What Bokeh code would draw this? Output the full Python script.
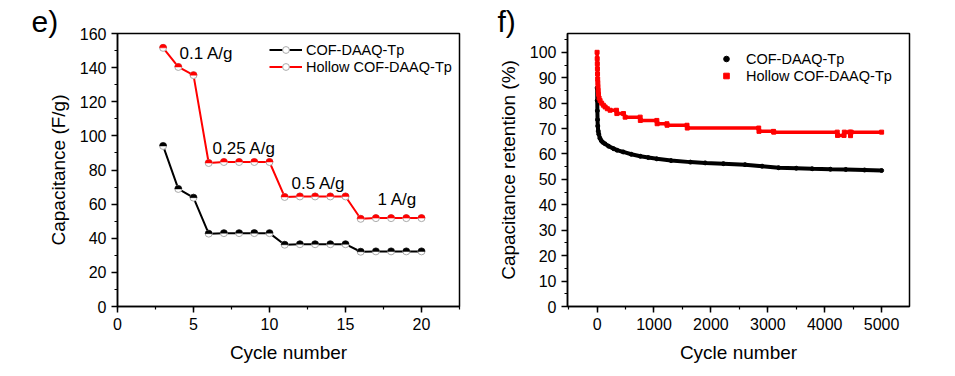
import math
from bokeh.plotting import figure
from bokeh.layouts import row
from bokeh.models import Label, Legend, LegendItem, SingleIntervalTicker, Range1d, Title
from bokeh.embed import file_html
from bokeh.resources import INLINE

# ---------------- data: panel e ----------------
cycles_e = [3, 4, 5, 6, 7, 8, 9, 10, 11, 12, 13, 14, 15, 16, 17, 18, 19, 20]
cap_cof = [94.1, 68.9, 63.8, 42.7, 43.0, 43.0, 43.0, 43.0, 36.2, 36.5, 36.5, 36.5, 36.5, 32.1, 32.3, 32.3, 32.3, 32.3]
cap_hollow = [151.6, 140.4, 135.6, 84.1, 84.7, 84.7, 84.7, 84.7, 64.2, 64.5, 64.5, 64.5, 64.5, 51.4, 51.8, 51.8, 51.8, 51.8]
rate_labels = ["0.1 A/g", "0.25 A/g", "0.5 A/g", "1 A/g"]

# ---------------- data: panel f ----------------
cyc_cof = [1, 3, 5, 8, 12, 20, 30, 50, 75, 100, 140, 200, 290, 350, 460, 600, 760, 900, 1050,
           1300, 1640, 1900, 2220, 2600, 2900, 3190, 3500, 3780, 4100, 4370, 4700, 5000]
ret_cof = [86, 81, 77, 73.5, 71, 69, 67.8, 66.2, 65.2, 64.6, 64.0, 63.1, 62.1, 61.5, 60.8, 59.9, 59.1, 58.6, 58.1,
           57.4, 56.8, 56.5, 56.2, 55.8, 55.2, 54.6, 54.4, 54.2, 54.0, 53.9, 53.7, 53.5]
cyc_hollow = [0, 2, 4, 6, 8, 10, 13, 16, 20, 25, 35, 53, 80, 110, 141, 180, 229, 340, 347, 464, 493, 757,
              760, 1050, 1055, 1227, 1230, 1580, 1585, 2840, 2845, 3100, 3105, 4220, 4225, 4340, 4345,
              4440, 4454, 4465, 5000]
ret_hollow = [100, 97.5, 95.5, 93.5, 91.5, 89.5, 88, 86.5, 85, 83.5, 82, 81, 80, 79.2, 78.5, 77.8, 77.2, 77.2,
              75.9, 75.9, 74.5, 74.5, 73.2, 73.2, 71.9, 71.9, 71.3, 71.3, 70.2, 70.2, 68.9, 68.9, 68.6, 68.6,
              67.3, 67.3, 68.6, 68.6, 67.2, 68.6, 68.6]

FONT = "Liberation Sans"
RED = "#ff0000"


def style(p, xint, yint, xlabel, ylabel):
    p.xgrid.visible = False
    p.ygrid.visible = False
    p.outline_line_color = "black"
    p.outline_line_width = 1.5
    p.outline_line_alpha = 1
    p.xaxis.ticker = SingleIntervalTicker(interval=xint, num_minor_ticks=2)
    p.yaxis.ticker = SingleIntervalTicker(interval=yint, num_minor_ticks=2)
    for ax in (p.xaxis[0], p.yaxis[0]):
        ax.axis_line_width = 1.5
        ax.major_tick_line_width = 1.5
        ax.minor_tick_line_width = 1.2
        ax.major_tick_in = 0
        ax.major_tick_out = 6
        ax.minor_tick_in = 0
        ax.minor_tick_out = 3
        ax.major_label_text_font = FONT
        ax.major_label_text_font_size = "16px"
        ax.major_label_text_color = "black"
        ax.axis_label_text_font = FONT
        ax.axis_label_text_font_size = "19px"
        ax.axis_label_text_font_style = "normal"
        ax.axis_label_text_color = "black"
    p.xaxis.axis_label = xlabel
    p.yaxis.axis_label = ylabel
    p.xaxis.axis_label_standoff = 9
    p.yaxis.axis_label_standoff = 8
    p.yaxis.major_label_orientation = "horizontal"


def panel_title(p, text, offset):
    t = Title(text=text, align="left", offset=offset, standoff=-9, text_font=FONT,
              text_font_size="30px", text_font_style="normal", text_color="black")
    p.add_layout(t, "above")


# ---------------- panel e ----------------
p1 = figure(frame_width=342, frame_height=273, x_range=Range1d(0, 22.5), y_range=Range1d(0, 160),
            min_border_left=117, min_border_right=18, min_border_top=33, min_border_bottom=62,
            output_backend="svg", toolbar_location=None)
style(p1, 5, 20, "Cycle number", "Capacitance (F/g)")
panel_title(p1, "e)", -86)

items1 = []
for vals, col, name in ((cap_cof, "black", "COF-DAAQ-Tp"), (cap_hollow, RED, "Hollow COF-DAAQ-Tp")):
    ln = p1.line(cycles_e, vals, line_color=col, line_width=2)
    cr = p1.scatter(cycles_e, vals, marker="circle", size=7, fill_color="white",
                    line_color="#aaaaaa", line_width=1)
    p1.wedge(cycles_e, vals, radius=3.5, radius_units="screen", start_angle=0, end_angle=math.pi,
             fill_color=col, line_color=col, line_width=0.5)
    items1.append(LegendItem(label=name, renderers=[ln, cr]))

leg1 = Legend(items=items1, location=(152, 231), padding=0, margin=0, spacing=0,
              label_height=17, glyph_height=17, glyph_width=33, label_standoff=4,
              border_line_alpha=0, background_fill_alpha=0,
              label_text_font=FONT, label_text_font_size="14.5px", label_text_color="black")
p1.add_layout(leg1)

rate_x = [4.08, 6.25, 11.45, 17.1]
rate_y = [148.3, 92.6, 72.1, 62.7]
for t, xx, yy in zip(rate_labels, rate_x, rate_y):
    p1.add_layout(Label(x=xx, y=yy, text=t, text_font=FONT, text_font_size="17px",
                        text_baseline="middle", text_color="black"))

# ---------------- panel f ----------------
p2 = figure(frame_width=342, frame_height=273, x_range=Range1d(-520, 5490), y_range=Range1d(0, 107.4),
            min_border_left=90, min_border_right=38, min_border_top=33, min_border_bottom=62,
            output_backend="svg", toolbar_location=None)
style(p2, 1000, 10, "Cycle number", "Capacitance retention (%)")
panel_title(p2, "f)", -70)

lb = p2.line(cyc_cof, ret_cof, line_color="black", line_width=4)
sb = p2.scatter(cyc_cof, ret_cof, marker="circle", size=4, fill_color="black", line_color="black")
lr = p2.line(cyc_hollow, ret_hollow, line_color=RED, line_width=3.5)
sr = p2.scatter(cyc_hollow, ret_hollow, marker="square", size=4, fill_color=RED, line_color=RED)

leg2 = Legend(items=[LegendItem(label="COF-DAAQ-Tp", renderers=[sb]),
                     LegendItem(label="Hollow COF-DAAQ-Tp", renderers=[sr])],
              location=(152, 222), padding=0, margin=0, spacing=0,
              label_height=17, glyph_height=17, glyph_width=14, label_standoff=13,
              border_line_alpha=0, background_fill_alpha=0,
              label_text_font=FONT, label_text_font_size="14.5px", label_text_color="black")
p2.add_layout(leg2)

layout = row(p1, p2)
open("out.html", "w").write(file_html(layout, INLINE))
